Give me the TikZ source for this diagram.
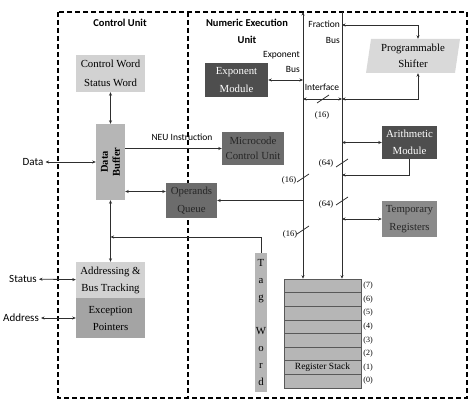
\documentclass[tikz,border=0pt]{standalone}
\usepackage{fontspec}
\setmainfont{Liberation Serif}
\newfontfamily\sanslabel{Carlito}
\usetikzlibrary{shapes.geometric,arrows.meta}

\definecolor{boxlight}{HTML}{D2D2D2}
\definecolor{boxmid}{HTML}{B6B6B6}
\definecolor{boxgrey}{HTML}{8A8A8A}
\definecolor{boxdim}{HTML}{6C6C6C}
\definecolor{boxdark}{HTML}{4E4E4E}
\definecolor{wire}{HTML}{2E2E2E}

\begin{document}
\begin{tikzpicture}[x=1pt,y=-1pt,
	>={Stealth[length=3.5pt,width=3pt]},
	unitframe/.style={line width=1.1pt,dash pattern=on 5pt off 3pt},
	box/.style={rectangle,inner sep=0pt,align=center,font=\fontsize{10.8}{17.5}\selectfont},
	wireline/.style={draw=wire,line width=0.8pt},
	textlabel/.style={font=\sanslabel\fontsize{11}{12}\selectfont,inner sep=2pt},
	titlelabel/.style={font=\sanslabel\bfseries\fontsize{10.5}{17}\selectfont,align=center},
	buslabel/.style={font=\sanslabel\fontsize{9.5}{15.5}\selectfont,align=right,inner sep=0pt},
	widthlabel/.style={font=\fontsize{8.5}{10}\selectfont,inner sep=0pt},
	regrow/.style={rectangle,fill=boxmid,draw=gray!70!black,line width=0.6pt,minimum width=77pt,minimum height=13.6pt,inner sep=0pt,font=\fontsize{9.5}{10}\selectfont},
	reglabel/.style={font=\fontsize{8}{9}\selectfont,inner sep=0pt}]
	\useasboundingbox (0,0) rectangle (474,404);
	% the two units
	\draw[unitframe] (58,12) rectangle (467,398);
	\draw[unitframe] (188,12) -- (188,398);
	\node[titlelabel] (cutitle) at (120,23) {Control Unit};
	\node[titlelabel] (neutitle) at (247,31) {Numeric Execution\\Unit};
	% control unit
	\node[box,fill=boxlight,minimum width=69pt,minimum height=37pt,font=\fontsize{10.8}{19}\selectfont] (cw) at (110.5,73.5) {Control Word\\Status Word};
	\node[box,fill=boxmid,minimum width=29pt,minimum height=76pt] (buf) at (110.5,162) {};
	\node[rotate=90,align=center,inner sep=0pt,font=\bfseries\fontsize{10.5}{12}\selectfont] (buftext) at (buf.center) {Data\\Buffer};
	\node[box,fill=boxlight,minimum width=69pt,minimum height=36pt,font=\fontsize{10.8}{17}\selectfont] (addr) at (110.5,280) {Addressing \&\\Bus Tracking};
	\node[box,fill=boxmid!90!black,minimum width=69pt,minimum height=40pt,font=\fontsize{10.8}{17}\selectfont] (exc) at (110.5,318) {Exception\\Pointers};
	\node[textlabel] (data) at (33,162) {Data};
	\node[textlabel] (status) at (23,279) {Status};
	\node[textlabel] (address) at (21,318) {Address};
	% numeric execution unit
	\node[box,fill=boxdark,text=white,minimum width=63pt,minimum height=34pt] (expm) at (236.5,80) {Exponent\\Module};
	\node[box,fill=boxdim,text=black!85,minimum width=62pt,minimum height=33pt,font=\fontsize{10.8}{15}\selectfont] (mcu) at (253,148.5) {Microcode\\Control Unit};
	\node[box,fill=boxdim,text=black!85,minimum width=51pt,minimum height=35pt] (oq) at (191.5,200.5) {Operands\\Queue};
	\node[box,trapezium,trapezium left angle=78,trapezium right angle=102,trapezium stretches body,fill=boxlight!85!white,minimum width=94pt,minimum height=34pt,font=\fontsize{10.8}{16}\selectfont] (shifter) at (413,56) {Programmable\\Shifter};
	\node[box,fill=boxdark,text=white,minimum width=55pt,minimum height=33pt] (arith) at (409.5,142.5) {Arithmetic\\Module};
	\node[box,fill=boxgrey,text=black!85,minimum width=55pt,minimum height=36pt] (temp) at (409.5,219) {Temporary\\Registers};
	\node[box,fill=boxmid,minimum width=12pt,minimum height=139pt,font=\fontsize{10.8}{17}\selectfont] (tag) at (261,322.5) {T\\a\\g\\[17pt]W\\o\\r\\d};
	% register stack
	\node[regrow] (r7) at (322.5,285.8) {};
	\node[regrow] (r6) at (322.5,299.4) {};
	\node[regrow] (r5) at (322.5,313) {};
	\node[regrow] (r4) at (322.5,326.6) {};
	\node[regrow] (r3) at (322.5,340.2) {};
	\node[regrow] (r2) at (322.5,353.8) {};
	\node[regrow] (r1) at (322.5,367.4) {Register Stack};
	\node[regrow] (r0) at (322.5,381) {};
	\node[reglabel] (l7) at (368,285.8) {(7)};
	\node[reglabel] (l6) at (368,299.4) {(6)};
	\node[reglabel] (l5) at (368,313) {(5)};
	\node[reglabel] (l4) at (368,326.6) {(4)};
	\node[reglabel] (l3) at (368,340.2) {(3)};
	\node[reglabel] (l2) at (368,353.8) {(2)};
	\node[reglabel] (l1) at (368,367.4) {(1)};
	\node[reglabel] (l0) at (368,381) {(0)};
	% buses
	\coordinate (expbus) at (303,12);
	\coordinate (fracbus) at (342,12);
	\coordinate (fracin) at (342,25);
	\coordinate (iface) at (303,99);
	\coordinate (arithout) at (342,175);
	\coordinate (oqin) at ([yshift=9pt]oq.west);
	\coordinate (tagout) at (110.5,237);
	\draw[wireline,<->] (expbus) -- (expbus |- r7.north);
	\draw[wireline,->] (fracbus) -- (fracbus |- r7.north);
	\node[buslabel,anchor=east] (explabel) at (300,62) {Exponent\\Bus};
	\node[buslabel,anchor=east] (fraclabel) at (340,32.5) {Fraction\\Bus};
	\node[buslabel,align=center] (ifacelabel) at (322,87) {Interface};
	\node[textlabel,font=\sanslabel\fontsize{9.5}{11}\selectfont] (neulabel) at (182,137) {NEU Instruction};
	% connectors
	\draw[wireline,<->] (data) -- (buf);
	\draw[wireline,<->] (cw) -- (buf);
	\draw[wireline,->] (buf.east |- mcu.west) -- (mcu.west);
	\draw[wireline,<->] (buf.east |- oqin) -- (oqin);
	\draw[wireline,->] (expbus |- oq.east) -- (oq.east);
	\draw[wireline,<->] (expm.east) -- (expm.east -| expbus);
	\draw[wireline,<->] (fracin) -| ([xshift=5pt]shifter.north);
	\draw[wireline,<->] (iface) -- (iface -| fracbus);
	\draw[wireline,<->] (iface -| fracbus) -| ([xshift=5pt]shifter.south);
	\draw[wireline,<->] (arith.west -| fracbus) -- (arith.west);
	\draw[wireline,->] (arith.south) |- (arithout);
	\draw[wireline,<->] (temp.west -| fracbus) -- (temp.west);
	\draw[wireline,<->] (buf) -- (addr);
	\draw[wireline,->] (tag.north) |- (tagout);
	\draw[wireline,<->] (status) -- (addr);
	\draw[wireline,<->] (address) -- (exc);
	% bus widths
	\draw[wireline] (317,103) -- (329,95);
	\node[widthlabel] (w1) at (322,115) {(16)};
	\draw[wireline] (336,167) -- (348,159);
	\node[widthlabel] (w2) at (326,163) {(64)};
	\draw[wireline] (297,182) -- (309,174);
	\node[widthlabel] (w3) at (289,180) {(16)};
	\draw[wireline] (336,205) -- (348,197);
	\node[widthlabel] (w4) at (326,204) {(64)};
	\draw[wireline] (297,234) -- (309,226);
	\node[widthlabel] (w5) at (290,234) {(16)};
\end{tikzpicture}
\end{document}
